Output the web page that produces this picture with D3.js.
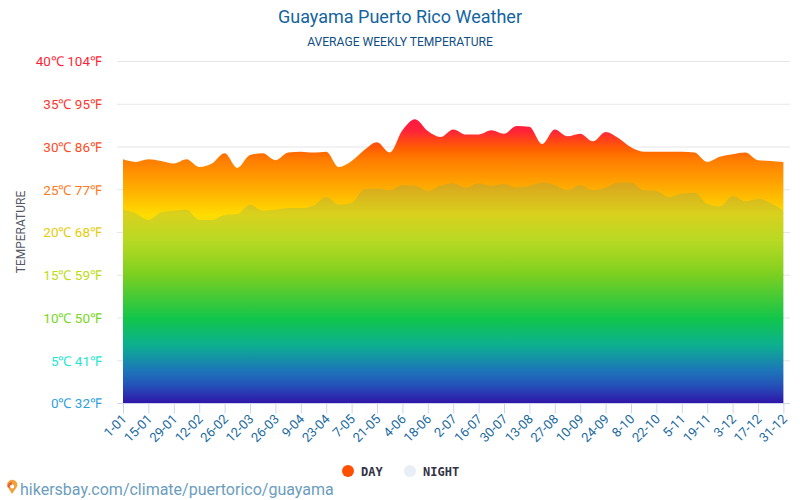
<!DOCTYPE html>
<html><head><meta charset="utf-8">
<script src="https://cdn.jsdelivr.net/npm/d3@7"></script>
<style>html,body{margin:0;padding:0;background:#fff}svg{display:block;font-family:Roboto,sans-serif}</style>
</head><body><svg id="c" width="800" height="500"></svg>
<script>
const categories=["1-01","8-01","15-01","22-01","29-01","5-02","12-02","19-02","26-02","5-03","12-03","19-03","26-03","2-04","9-04","16-04","23-04","30-04","7-05","14-05","21-05","28-05","4-06","11-06","18-06","25-06","2-07","9-07","16-07","23-07","30-07","6-08","13-08","20-08","27-08","3-09","10-09","17-09","24-09","1-10","8-10","15-10","22-10","29-10","5-11","12-11","19-11","26-11","3-12","10-12","17-12","24-12","31-12"];
const dayTemps=[28.5,28.2,28.5,28.3,28.0,28.5,27.6,28.0,29.2,27.5,29.0,29.2,28.4,29.3,29.4,29.3,29.4,27.6,28.3,29.6,30.5,29.3,31.9,33.2,31.8,31.1,32.0,31.4,31.4,31.9,31.5,32.4,32.3,30.3,32.0,31.2,31.5,30.6,31.7,31.0,29.9,29.4,29.4,29.4,29.4,29.3,28.2,28.8,29.1,29.3,28.4,28.3,28.2];
const nightTemps=[22.6,22.2,21.4,22.3,22.5,22.6,21.4,21.4,22.0,22.1,23.2,22.5,22.6,22.8,22.8,23.1,24.1,23.2,23.4,25.0,25.1,24.9,25.5,25.4,24.8,25.4,25.7,25.2,25.7,25.4,25.6,25.2,25.4,25.8,25.5,24.9,25.5,24.9,25.2,25.8,25.8,24.9,24.8,24.1,24.5,24.6,23.3,23.0,24.2,23.6,23.9,23.4,22.5];
const yTicks=[0,5,10,15,20,25,30,35,40];
const yLabels=["0℃ 32℉","5℃ 41℉","10℃ 50℉","15℃ 59℉","20℃ 68℉","25℃ 77℉","30℃ 86℉","35℃ 95℉","40℃ 104℉"];
const yLabelColors=["#2f9fe0","#25e6d0","#78d71e","#bcdc14","#e6cc0a","#ff7a1a","#ff4a22","#ff352c","#ff1f38"];
const colorTemps=[40,33.2,31.8,30.5,29.6,28.5,25,22,19,15,9.8,6.8,3.9,2,0];
const colorVals=["#ff1744","#ff1744","#ff2438","#ff4a12","#ff6200","#ff7c00","#ffae00","#ffdc00","#c8e014","#7ccf20","#10c54c","#0cb090","#1c78b8","#2450b8","#3015a8"];
const legendNames=["DAY","NIGHT"];
const legendColors=["#ff5000","#e8eef5"];

const svg=d3.select("#c");
const L=123,R=783.4,T=61,B=403,GX0=117,GX1=790;
const x=d3.scalePoint().domain(categories).range([L,R]);
const y=d3.scaleLinear().domain([0,40]).range([B,T]);
const defs=svg.append("defs");
const g=defs.append("linearGradient").attr("id","temp").attr("gradientUnits","userSpaceOnUse")
 .attr("x1",0).attr("x2",0).attr("y1",y(40)).attr("y2",y(0));
colorTemps.forEach((t,i)=>g.append("stop").attr("offset",(40-t)/40).attr("stop-color",colorVals[i]));
const ng=defs.append("linearGradient").attr("id","nightFill").attr("gradientUnits","userSpaceOnUse")
 .attr("x1",0).attr("x2",0).attr("y1",y(26)).attr("y2",y(15));
ng.append("stop").attr("offset",0).attr("stop-color","#40a890").attr("stop-opacity",.2);
ng.append("stop").attr("offset",.4).attr("stop-color","#40a890").attr("stop-opacity",.2);
ng.append("stop").attr("offset",1).attr("stop-color","#40a890").attr("stop-opacity",0);

// grid
svg.append("g").selectAll("line").data(yTicks.filter(d=>d>0)).join("line")
 .attr("x1",GX0).attr("x2",GX1).attr("y1",d=>y(d)+.5).attr("y2",d=>y(d)+.5).attr("stroke","#e6e6e6");
// y labels
svg.append("g").selectAll("text").data(yTicks).join("text")
 .attr("x",102).attr("y",d=>y(d)+5.3).attr("text-anchor","end").attr("font-size",13.5)
 .attr("fill",(d,i)=>yLabelColors[i]).text((d,i)=>yLabels[i]);
// areas
const area=vals=>d3.area().x((d,i)=>x(categories[i])).y0(y(0)).y1(d=>y(d)).curve(d3.curveMonotoneX)(vals);
svg.append("path").attr("d",area(dayTemps)).attr("fill","url(#temp)");
svg.append("path").attr("d",area(nightTemps)).attr("fill","url(#nightFill)");
// x axis
const xAxis=d3.axisBottom(x).tickValues(categories.filter((d,i)=>i%2===0)).tickSize(10).tickPadding(4);
const ax=svg.append("g").attr("transform",`translate(0,${B+.5})`).call(xAxis);
ax.select(".domain").remove();
ax.append("line").attr("x1",GX0).attr("x2",GX1).attr("stroke","#ccd6eb");
ax.selectAll(".tick line").attr("stroke","#ccd6eb");
ax.selectAll(".tick text").attr("font-family","Roboto,sans-serif").attr("font-size",13).attr("fill","#1a6aa0")
 .attr("text-anchor","end").attr("dy",0).attr("transform","translate(-6,6.5) rotate(-45)");
// titles
svg.append("text").attr("x",400).attr("y",23).attr("text-anchor","middle").attr("font-size",18).attr("fill","#14659f").text("Guayama Puerto Rico Weather");
svg.append("text").attr("x",400).attr("y",46).attr("text-anchor","middle").attr("font-size",12.1).attr("fill","#0f4f86").text("AVERAGE WEEKLY TEMPERATURE");
svg.append("text").attr("transform","translate(25,232) rotate(-90)").attr("text-anchor","middle").attr("font-size",12).attr("fill","#555a66").text("TEMPERATURE");
// legend
const lx=[348,410],ltx=[361,423];
legendNames.forEach((n,i)=>{
 svg.append("circle").attr("cx",lx[i]).attr("cy",471).attr("r",6).attr("fill",legendColors[i]);
 svg.append("text").attr("x",ltx[i]).attr("y",475.5).attr("font-family","'DejaVu Sans Mono',monospace").attr("font-weight","bold").attr("font-size",12).attr("fill","#333344").text(n);
});
// footer
svg.append("path").attr("d","M12 494 L8 487.5 A5 5 0 1 1 16.5 487.5 Z").attr("fill","#f2a23a");
svg.append("path").attr("d","M7.5 487 A5 5 0 0 1 12 482 L12 485 A2 2 0 0 0 10 488 Z").attr("fill","#e8603c");
svg.append("circle").attr("cx",12.2).attr("cy",486.5).attr("r",1.9).attr("fill","#fff");
svg.append("text").attr("x",20).attr("y",495).attr("font-size",16).attr("fill","#6c9dbd").text("hikersbay.com/climate/puertorico/guayama");
</script></body></html>
